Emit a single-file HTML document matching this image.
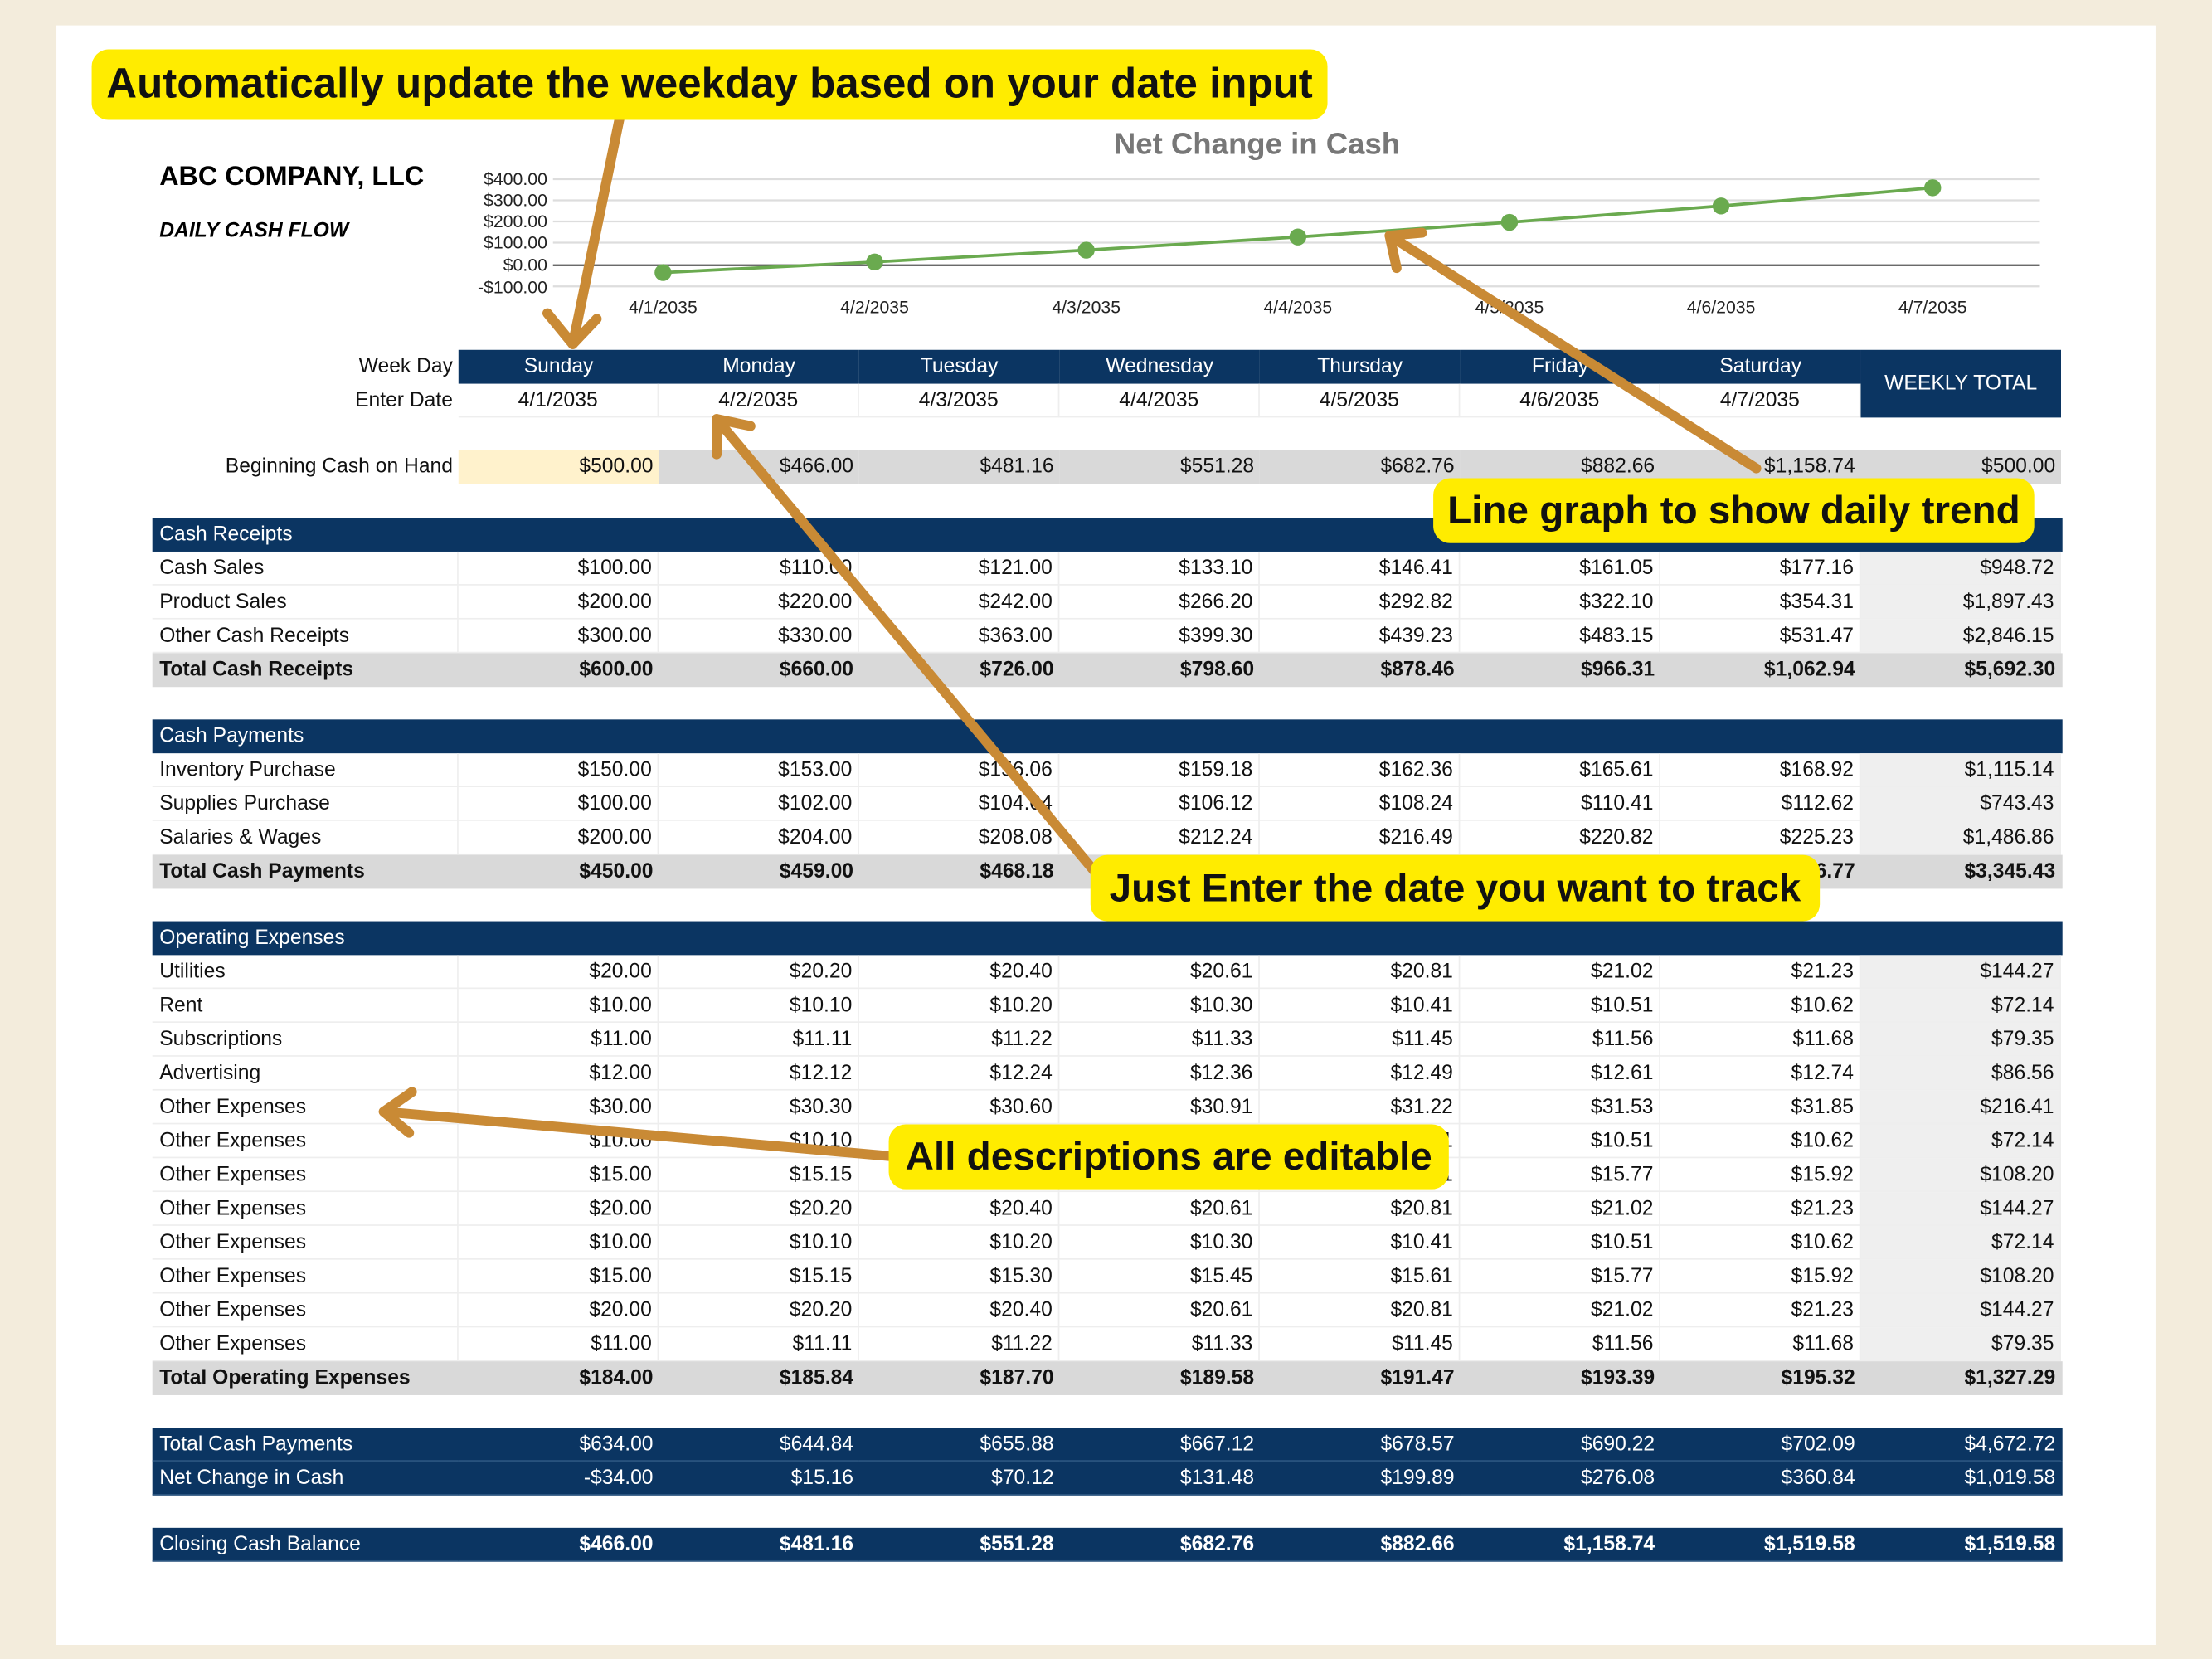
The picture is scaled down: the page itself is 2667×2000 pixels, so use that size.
<!DOCTYPE html>
<html><head><meta charset="utf-8"><style>
*{margin:0;padding:0;box-sizing:border-box}
body{width:2667px;height:2000px;background:#f3ecdc;overflow:hidden;font-family:"Liberation Sans",Arial,sans-serif}
#w{position:absolute;left:0;top:0;width:1568px;height:1176px;transform:scale(1.70089,1.70068);transform-origin:0 0}
#panel{position:absolute;left:40px;top:18px;width:1488px;height:1148px;background:#fff}
.r{position:absolute;left:108px;width:1354px;height:24px;display:flex;font-size:14.5px;line-height:25px;color:#111}
.r>div{height:24px;white-space:nowrap;overflow:visible}
.l{width:217px;padding-left:5px;border-bottom:1px solid #eee;border-right:1px solid #eee}
.c,.t{width:142px;text-align:right;padding-right:4px;border-bottom:1px solid #eee;border-right:1px solid #eee}
.t{background:#efefef}
.hd{background:#0b3562;color:#fff}
.hd>div,.c.hd{border:none}
.tot{background:#d9d9d9;font-weight:bold}
.tot>div{border:none}
.nv{background:#0b3562;color:#fff}
.nv>div{border:none;border-bottom:1px solid #2b5580}
.y{position:absolute;background:#ffec00;border-radius:12px;font-family:"Liberation Sans Narrow","Liberation Sans",sans-serif;font-weight:bold;color:#111;white-space:nowrap;text-align:center}
</style></head><body><div id="w">
<div id="panel"></div>

<div style="position:absolute;left:113px;top:115px;font-size:19px;font-weight:bold">ABC COMPANY, LLC</div>
<div style="position:absolute;left:113px;top:156px;font-size:14.5px;font-weight:bold;font-style:italic">DAILY CASH FLOW</div>

<svg style="position:absolute;left:0;top:0" width="1568" height="240">
<text x="891" y="109" text-anchor="middle" font-family="Liberation Sans" font-weight="bold" font-size="21.5" fill="#777">Net Change in Cash</text>
<g stroke="#ddd" stroke-width="1.3">
<line x1="392" x2="1446" y1="127" y2="127"/><line x1="392" x2="1446" y1="142" y2="142"/><line x1="392" x2="1446" y1="157" y2="157"/><line x1="392" x2="1446" y1="172" y2="172"/><line x1="392" x2="1446" y1="203" y2="203"/>
</g>
<line x1="392" x2="1446" y1="188" y2="188" stroke="#555" stroke-width="1.3"/>
<g font-family="Liberation Sans" font-size="12.5" fill="#222" text-anchor="end">
<text x="388" y="131">$400.00</text><text x="388" y="146">$300.00</text><text x="388" y="161">$200.00</text><text x="388" y="176">$100.00</text><text x="388" y="192">$0.00</text><text x="388" y="208">-$100.00</text>
</g>
<g font-family="Liberation Sans" font-size="12.5" fill="#222" text-anchor="middle">
<text x="470" y="222">4/1/2035</text><text x="620" y="222">4/2/2035</text><text x="770" y="222">4/3/2035</text><text x="920" y="222">4/4/2035</text><text x="1070" y="222">4/5/2035</text><text x="1220" y="222">4/6/2035</text><text x="1370" y="222">4/7/2035</text>
</g>
<polyline fill="none" stroke="#6aaa4f" stroke-width="2.2" points="470,193.2 620,185.7 770,177.3 920,168 1070,157.6 1220,146 1370,133.1"/>
<g fill="#6aaa4f"><circle cx="470" cy="193.2" r="6"/><circle cx="620" cy="185.7" r="6"/><circle cx="770" cy="177.3" r="6"/><circle cx="920" cy="168" r="6"/><circle cx="1070" cy="157.6" r="6"/><circle cx="1220" cy="146" r="6"/><circle cx="1370" cy="133.1" r="6"/></g>
</svg>

<div class="r" style="top:248px"><div class="l" style="text-align:right;padding-right:4px;border:none">Week Day</div>
<div class="c hd" style="text-align:center;padding:0">Sunday</div><div class="c hd" style="text-align:center;padding:0">Monday</div><div class="c hd" style="text-align:center;padding:0">Tuesday</div><div class="c hd" style="text-align:center;padding:0">Wednesday</div><div class="c hd" style="text-align:center;padding:0">Thursday</div><div class="c hd" style="text-align:center;padding:0">Friday</div><div class="c hd" style="text-align:center;padding:0">Saturday</div>
<div class="hd" style="width:142px;height:48px;line-height:48px;text-align:center">WEEKLY TOTAL</div></div>
<div class="r" style="top:272px"><div class="l" style="text-align:right;padding-right:4px;border:none">Enter Date</div>
<div class="c" style="text-align:center;padding:0">4/1/2035</div><div class="c" style="text-align:center;padding:0">4/2/2035</div><div class="c" style="text-align:center;padding:0">4/3/2035</div><div class="c" style="text-align:center;padding:0">4/4/2035</div><div class="c" style="text-align:center;padding:0">4/5/2035</div><div class="c" style="text-align:center;padding:0">4/6/2035</div><div class="c" style="text-align:center;padding:0">4/7/2035</div></div>

<div class="r" style="top:319px"><div class="l" style="text-align:right;padding-right:4px;border:none">Beginning Cash on Hand</div>
<div class="c" style="background:#fff2cc;border:none">$500.00</div><div class="c" style="background:#d9d9d9;border:none">$466.00</div><div class="c" style="background:#d9d9d9;border:none">$481.16</div><div class="c" style="background:#d9d9d9;border:none">$551.28</div><div class="c" style="background:#d9d9d9;border:none">$682.76</div><div class="c" style="background:#d9d9d9;border:none">$882.66</div><div class="c" style="background:#d9d9d9;border:none">$1,158.74</div><div class="c" style="background:#d9d9d9;border:none">$500.00</div></div>

<div class="r hd" style="top:367px"><div class="l">Cash Receipts</div></div>
<div class="r" style="top:391px"><div class="l">Cash Sales</div><div class="c">$100.00</div><div class="c">$110.00</div><div class="c">$121.00</div><div class="c">$133.10</div><div class="c">$146.41</div><div class="c">$161.05</div><div class="c">$177.16</div><div class="t">$948.72</div></div>
<div class="r" style="top:415px"><div class="l">Product Sales</div><div class="c">$200.00</div><div class="c">$220.00</div><div class="c">$242.00</div><div class="c">$266.20</div><div class="c">$292.82</div><div class="c">$322.10</div><div class="c">$354.31</div><div class="t">$1,897.43</div></div>
<div class="r" style="top:439px"><div class="l">Other Cash Receipts</div><div class="c">$300.00</div><div class="c">$330.00</div><div class="c">$363.00</div><div class="c">$399.30</div><div class="c">$439.23</div><div class="c">$483.15</div><div class="c">$531.47</div><div class="t">$2,846.15</div></div>
<div class="r tot" style="top:463px"><div class="l">Total Cash Receipts</div><div class="c">$600.00</div><div class="c">$660.00</div><div class="c">$726.00</div><div class="c">$798.60</div><div class="c">$878.46</div><div class="c">$966.31</div><div class="c">$1,062.94</div><div class="c">$5,692.30</div></div>

<div class="r hd" style="top:510px"><div class="l">Cash Payments</div></div>
<div class="r" style="top:534px"><div class="l">Inventory Purchase</div><div class="c">$150.00</div><div class="c">$153.00</div><div class="c">$156.06</div><div class="c">$159.18</div><div class="c">$162.36</div><div class="c">$165.61</div><div class="c">$168.92</div><div class="t">$1,115.14</div></div>
<div class="r" style="top:558px"><div class="l">Supplies Purchase</div><div class="c">$100.00</div><div class="c">$102.00</div><div class="c">$104.04</div><div class="c">$106.12</div><div class="c">$108.24</div><div class="c">$110.41</div><div class="c">$112.62</div><div class="t">$743.43</div></div>
<div class="r" style="top:582px"><div class="l">Salaries &amp; Wages</div><div class="c">$200.00</div><div class="c">$204.00</div><div class="c">$208.08</div><div class="c">$212.24</div><div class="c">$216.49</div><div class="c">$220.82</div><div class="c">$225.23</div><div class="t">$1,486.86</div></div>
<div class="r tot" style="top:606px"><div class="l">Total Cash Payments</div><div class="c">$450.00</div><div class="c">$459.00</div><div class="c">$468.18</div><div class="c">$477.54</div><div class="c">$487.09</div><div class="c">$496.84</div><div class="c">$506.77</div><div class="c">$3,345.43</div></div>

<div class="r hd" style="top:653px"><div class="l">Operating Expenses</div></div>
<div class="r" style="top:677px"><div class="l">Utilities</div><div class="c">$20.00</div><div class="c">$20.20</div><div class="c">$20.40</div><div class="c">$20.61</div><div class="c">$20.81</div><div class="c">$21.02</div><div class="c">$21.23</div><div class="t">$144.27</div></div>
<div class="r" style="top:701px"><div class="l">Rent</div><div class="c">$10.00</div><div class="c">$10.10</div><div class="c">$10.20</div><div class="c">$10.30</div><div class="c">$10.41</div><div class="c">$10.51</div><div class="c">$10.62</div><div class="t">$72.14</div></div>
<div class="r" style="top:725px"><div class="l">Subscriptions</div><div class="c">$11.00</div><div class="c">$11.11</div><div class="c">$11.22</div><div class="c">$11.33</div><div class="c">$11.45</div><div class="c">$11.56</div><div class="c">$11.68</div><div class="t">$79.35</div></div>
<div class="r" style="top:749px"><div class="l">Advertising</div><div class="c">$12.00</div><div class="c">$12.12</div><div class="c">$12.24</div><div class="c">$12.36</div><div class="c">$12.49</div><div class="c">$12.61</div><div class="c">$12.74</div><div class="t">$86.56</div></div>
<div class="r" style="top:773px"><div class="l">Other Expenses</div><div class="c">$30.00</div><div class="c">$30.30</div><div class="c">$30.60</div><div class="c">$30.91</div><div class="c">$31.22</div><div class="c">$31.53</div><div class="c">$31.85</div><div class="t">$216.41</div></div>
<div class="r" style="top:797px"><div class="l">Other Expenses</div><div class="c">$10.00</div><div class="c">$10.10</div><div class="c">$10.20</div><div class="c">$10.30</div><div class="c">$10.41</div><div class="c">$10.51</div><div class="c">$10.62</div><div class="t">$72.14</div></div>
<div class="r" style="top:821px"><div class="l">Other Expenses</div><div class="c">$15.00</div><div class="c">$15.15</div><div class="c">$15.30</div><div class="c">$15.45</div><div class="c">$15.61</div><div class="c">$15.77</div><div class="c">$15.92</div><div class="t">$108.20</div></div>
<div class="r" style="top:845px"><div class="l">Other Expenses</div><div class="c">$20.00</div><div class="c">$20.20</div><div class="c">$20.40</div><div class="c">$20.61</div><div class="c">$20.81</div><div class="c">$21.02</div><div class="c">$21.23</div><div class="t">$144.27</div></div>
<div class="r" style="top:869px"><div class="l">Other Expenses</div><div class="c">$10.00</div><div class="c">$10.10</div><div class="c">$10.20</div><div class="c">$10.30</div><div class="c">$10.41</div><div class="c">$10.51</div><div class="c">$10.62</div><div class="t">$72.14</div></div>
<div class="r" style="top:893px"><div class="l">Other Expenses</div><div class="c">$15.00</div><div class="c">$15.15</div><div class="c">$15.30</div><div class="c">$15.45</div><div class="c">$15.61</div><div class="c">$15.77</div><div class="c">$15.92</div><div class="t">$108.20</div></div>
<div class="r" style="top:917px"><div class="l">Other Expenses</div><div class="c">$20.00</div><div class="c">$20.20</div><div class="c">$20.40</div><div class="c">$20.61</div><div class="c">$20.81</div><div class="c">$21.02</div><div class="c">$21.23</div><div class="t">$144.27</div></div>
<div class="r" style="top:941px"><div class="l">Other Expenses</div><div class="c">$11.00</div><div class="c">$11.11</div><div class="c">$11.22</div><div class="c">$11.33</div><div class="c">$11.45</div><div class="c">$11.56</div><div class="c">$11.68</div><div class="t">$79.35</div></div>
<div class="r tot" style="top:965px"><div class="l">Total Operating Expenses</div><div class="c">$184.00</div><div class="c">$185.84</div><div class="c">$187.70</div><div class="c">$189.58</div><div class="c">$191.47</div><div class="c">$193.39</div><div class="c">$195.32</div><div class="c">$1,327.29</div></div>

<div class="r nv" style="top:1012px"><div class="l">Total Cash Payments</div><div class="c">$634.00</div><div class="c">$644.84</div><div class="c">$655.88</div><div class="c">$667.12</div><div class="c">$678.57</div><div class="c">$690.22</div><div class="c">$702.09</div><div class="c">$4,672.72</div></div>
<div class="r nv" style="top:1036px"><div class="l">Net Change in Cash</div><div class="c">-$34.00</div><div class="c">$15.16</div><div class="c">$70.12</div><div class="c">$131.48</div><div class="c">$199.89</div><div class="c">$276.08</div><div class="c">$360.84</div><div class="c">$1,019.58</div></div>
<div class="r nv" style="top:1083px"><div class="l">Closing Cash Balance</div><div class="c" style="font-weight:bold">$466.00</div><div class="c" style="font-weight:bold">$481.16</div><div class="c" style="font-weight:bold">$551.28</div><div class="c" style="font-weight:bold">$682.76</div><div class="c" style="font-weight:bold">$882.66</div><div class="c" style="font-weight:bold">$1,158.74</div><div class="c" style="font-weight:bold">$1,519.58</div><div class="c" style="font-weight:bold">$1,519.58</div></div>

<svg style="position:absolute;left:0;top:0" width="1568" height="1176">
<g stroke="#c98a35" stroke-width="7" stroke-linecap="round" stroke-linejoin="round" fill="none">
<line x1="440" y1="80" x2="406" y2="244"/><polyline points="388,222 406,244 423,226"/>
<line x1="1245" y1="332" x2="985" y2="167"/><polyline points="990,190 985,167 1008,165"/>
<line x1="782" y1="625" x2="508" y2="297"/><polyline points="508,322 508,297 532,302"/>
<line x1="636" y1="820" x2="272" y2="788"/><polyline points="292,774 272,788 290,803"/>
</g></svg>

<div class="y" style="left:65px;top:35px;width:876px;height:50px;line-height:50px;font-size:30px">Automatically update the weekday based on your date input</div>
<div class="y" style="left:1016px;top:339px;width:426px;height:46px;line-height:46px;font-size:28px">Line graph to show daily trend</div>
<div class="y" style="left:773px;top:606px;width:517px;height:47px;line-height:47px;font-size:28px">Just Enter the date you want to track</div>
<div class="y" style="left:630px;top:797px;width:397px;height:46px;line-height:46px;font-size:28px">All descriptions are editable</div>
</div></body></html>
